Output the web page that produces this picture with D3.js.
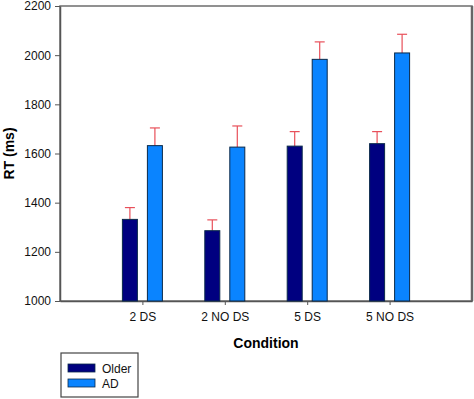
<!DOCTYPE html>
<meta charset="utf-8">
<script src="https://d3js.org/d3.v7.min.js"></script>
<style>
  body { margin: 0; background: #fff; }
  text { font-family: Arial, "Liberation Sans", sans-serif; }
</style>
<div id="my_dataviz"></div>
<script>

var conditions = ["2 DS", "2 NO DS", "5 DS", "5 NO DS"];
var seriesNames = ["Older", "AD"];
var olderRT = [1332, 1286, 1630, 1640];
var olderErr = [48, 44, 59, 49];
var adRT = [1632, 1626, 1983, 2009];
var adErr = [72, 86, 71, 76];
var yTicks = [1000, 1200, 1400, 1600, 1800, 2000, 2200];

var colors = {Older: "#000080", AD: "#0a84ff"};

var margin = {top: 6, right: 2, bottom: 98, left: 60},
    width = 474 - margin.left - margin.right,
    height = 399 - margin.top - margin.bottom;

var svg = d3.select("#my_dataviz")
  .append("svg")
    .attr("width", 474)
    .attr("height", 399)
  .append("g")
    .attr("transform", "translate(" + margin.left + "," + margin.top + ")");

// categories sit at 1..4 on a 0..5 axis
var x = d3.scaleLinear()
  .domain([0, conditions.length + 1])
  .range([0, width]);

var y = d3.scaleLinear()
  .domain([1000, 2200])
  .range([height, 0]);

// frame
svg.append("rect")
  .attr("x", 0).attr("y", 0)
  .attr("width", width).attr("height", height)
  .attr("fill", "none")
  .attr("stroke", "#6e6e6e")
  .attr("stroke-width", 1.5);
svg.append("line")
  .attr("x1", width).attr("x2", width)
  .attr("y1", 0).attr("y2", height)
  .attr("stroke", "#666")
  .attr("stroke-width", 2.5);

svg.append("g")
  .attr("transform", "translate(0," + height + ")")
  .call(d3.axisBottom(x)
    .tickValues(d3.range(1, conditions.length + 1))
    .tickFormat(function(d) { return conditions[d - 1]; })
    .tickSize(4).tickSizeOuter(0))
  .call(function(g) {
    g.select(".domain").attr("stroke", "#555").attr("stroke-width", 1.5);
    g.selectAll(".tick line").attr("stroke", "#555");
    g.selectAll(".tick text").attr("font-size", 12).attr("fill", "#111").attr("dy", "1.05em")
      .attr("font-family", "Arial, 'Liberation Sans', sans-serif");
  });

svg.append("g")
  .call(d3.axisLeft(y)
    .tickValues(yTicks)
    .tickFormat(d3.format("d"))
    .tickSize(5).tickSizeOuter(0))
  .call(function(g) {
    g.select(".domain").attr("stroke", "#555").attr("stroke-width", 1.5);
    g.selectAll(".tick line").attr("stroke", "#555");
    g.selectAll(".tick text").attr("font-size", 12).attr("fill", "#111").attr("x", -9)
      .attr("font-family", "Arial, 'Liberation Sans', sans-serif");
  });

var barW = 15, offset = 12.5;
var data = [];
conditions.forEach(function(c, i) {
  data.push({series: "Older", i: i, v: olderRT[i], e: olderErr[i], dx: -offset});
  data.push({series: "AD", i: i, v: adRT[i], e: adErr[i], dx: offset});
});

// error bars (upper only)
var err = svg.append("g").selectAll("g")
  .data(data)
  .enter().append("g")
    .attr("stroke", "#e8505a")
    .attr("stroke-width", 1.2);
err.append("line")
  .attr("x1", function(d) { return x(d.i + 1) + d.dx; })
  .attr("x2", function(d) { return x(d.i + 1) + d.dx; })
  .attr("y1", function(d) { return y(d.v); })
  .attr("y2", function(d) { return y(d.v + d.e); });
err.append("line")
  .attr("x1", function(d) { return x(d.i + 1) + d.dx - 5; })
  .attr("x2", function(d) { return x(d.i + 1) + d.dx + 5; })
  .attr("y1", function(d) { return y(d.v + d.e); })
  .attr("y2", function(d) { return y(d.v + d.e); });

svg.append("g").selectAll("rect")
  .data(data)
  .enter().append("rect")
    .attr("x", function(d) { return x(d.i + 1) + d.dx - barW / 2; })
    .attr("y", function(d) { return y(d.v); })
    .attr("width", barW)
    .attr("height", function(d) { return y(1000) - y(d.v); })
    .attr("fill", function(d) { return colors[d.series]; })
    .attr("stroke", "#0b2a4a")
    .attr("stroke-width", 1);

// axis titles
svg.append("text")
  .attr("x", width / 2 + 0)
  .attr("y", height + 47)
  .attr("text-anchor", "middle")
  .attr("font-size", 14)
  .attr("font-weight", "bold")
  .text("Condition");

svg.append("text")
  .attr("transform", "translate(" + (-46) + "," + (height / 2) + ") rotate(-90)")
  .attr("text-anchor", "middle")
  .attr("font-size", 14)
  .attr("font-weight", "bold")
  .text("RT (ms)");

// legend
var legend = svg.append("g")
  .attr("transform", "translate(1," + (height + 52) + ")");
legend.append("rect")
  .attr("width", 77).attr("height", 44)
  .attr("fill", "#fff")
  .attr("stroke", "#444").attr("stroke-width", 1.2);
seriesNames.forEach(function(s, k) {
  legend.append("rect")
    .attr("x", 7).attr("y", 11 + k * 15)
    .attr("width", 27).attr("height", 8)
    .attr("fill", colors[s])
    .attr("stroke", "#0b2a4a").attr("stroke-width", 0.8);
  legend.append("text")
    .attr("x", 41).attr("y", 19.5 + k * 15)
    .attr("font-size", 12)
    .attr("fill", "#111")
    .text(s);
});

</script>
